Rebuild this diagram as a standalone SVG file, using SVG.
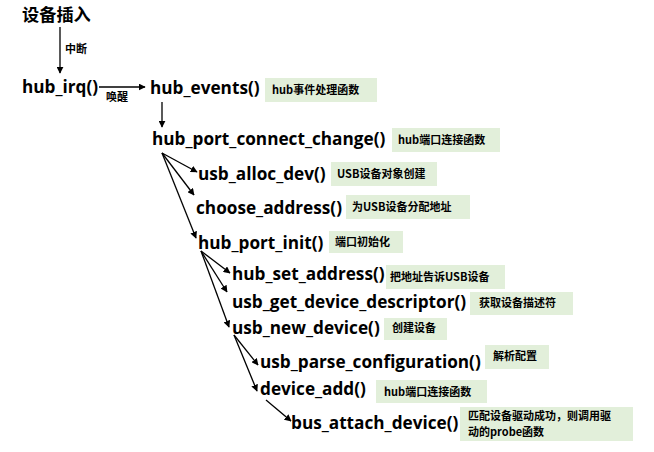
<svg xmlns="http://www.w3.org/2000/svg" width="654" height="452" viewBox="0 0 654 452">
<style>
.f{font-family:"Open Sans","Liberation Sans","Noto Sans CJK SC",sans-serif;font-weight:bold;font-size:17.2px;fill:#000}
.n{font-family:"Noto Sans CJK SC","Open Sans",sans-serif;font-weight:bold;font-size:11px;fill:#000}
.b{fill:#e2efda}
.c line{stroke:#000;stroke-width:1.3;marker-end:url(#a)}
</style>
<defs><marker id="a" viewBox="0 0 10 10" refX="9" refY="5" markerWidth="7" markerHeight="7" orient="auto" markerUnits="userSpaceOnUse"><path d="M0,0L10,5L0,10z" fill="#000"/></marker></defs>
<rect width="654" height="452" fill="#fff"/>
<g class="c" id="connectors">
<line x1="60" y1="27" x2="60" y2="73"/>
<line x1="99" y1="87" x2="145" y2="87"/>
<line x1="162" y1="102" x2="162" y2="127"/>
<line x1="162" y1="153" x2="197" y2="172"/>
<line x1="162" y1="153" x2="194" y2="195"/>
<line x1="162" y1="153" x2="196" y2="238"/>
<line x1="201" y1="251" x2="230" y2="273"/>
<line x1="201" y1="251" x2="227" y2="292"/>
<line x1="201" y1="251" x2="229" y2="327"/>
<line x1="234" y1="335" x2="258" y2="365"/>
<line x1="234" y1="335" x2="257" y2="391"/>
<line x1="266" y1="400" x2="291" y2="421"/>
</g>
<text class="n" x="65" y="53">中断</text>
<text class="n" x="106" y="101">唤醒</text>
<g id="n0"><text class="f" x="22" y="21">设备插入</text></g>
<g id="n1"><text class="f" x="22" y="93">hub_irq()</text></g>
<g id="n2"><text class="f" x="150" y="94">hub_events()</text><rect class="b" x="265" y="78" width="112" height="24"/><text class="n" x="272" y="94">hub事件处理函数</text></g>
<g id="n3"><text class="f" x="152" y="145">hub_port_connect_change()</text><rect class="b" x="392" y="128" width="108" height="24"/><text class="n" x="398" y="144">hub端口连接函数</text></g>
<g id="n4"><text class="f" x="198" y="180">usb_alloc_dev()</text><rect class="b" x="331" y="162" width="106" height="24"/><text class="n" x="337" y="178">USB设备对象创建</text></g>
<g id="n5"><text class="f" x="196" y="214">choose_address()</text><rect class="b" x="346" y="195" width="124" height="24"/><text class="n" x="352" y="211">为USB设备分配地址</text></g>
<g id="n6"><text class="f" x="198" y="249">hub_port_init()</text><rect class="b" x="329" y="231" width="74" height="22"/><text class="n" x="335" y="246">端口初始化</text></g>
<g id="n7"><text class="f" x="232" y="280">hub_set_address()</text><rect class="b" x="386" y="265" width="119" height="24"/><text class="n" x="390" y="281">把地址告诉USB设备</text></g>
<g id="n8"><text class="f" x="232" y="308">usb_get_device_descriptor()</text><rect class="b" x="470" y="292" width="103" height="23"/><text class="n" x="479" y="307">获取设备描述符</text></g>
<g id="n9"><text class="f" x="232" y="334">usb_new_device()</text><rect class="b" x="384" y="318" width="63" height="22"/><text class="n" x="392" y="332">创建设备</text></g>
<g id="n10"><text class="f" x="260" y="368">usb_parse_configuration()</text><rect class="b" x="485" y="345" width="64" height="24"/><text class="n" x="493" y="360">解析配置</text></g>
<g id="n11"><text class="f" x="260" y="395">device_add()</text><rect class="b" x="376" y="380" width="111" height="23"/><text class="n" x="384" y="396">hub端口连接函数</text></g>
<g id="n12"><text class="f" x="291" y="429">bus_attach_device()</text><rect class="b" x="460" y="407" width="173" height="34"/><text class="n" x="468" y="420">匹配设备驱动成功，则调用驱</text><text class="n" x="468" y="436">动的probe函数</text></g>
</svg>
